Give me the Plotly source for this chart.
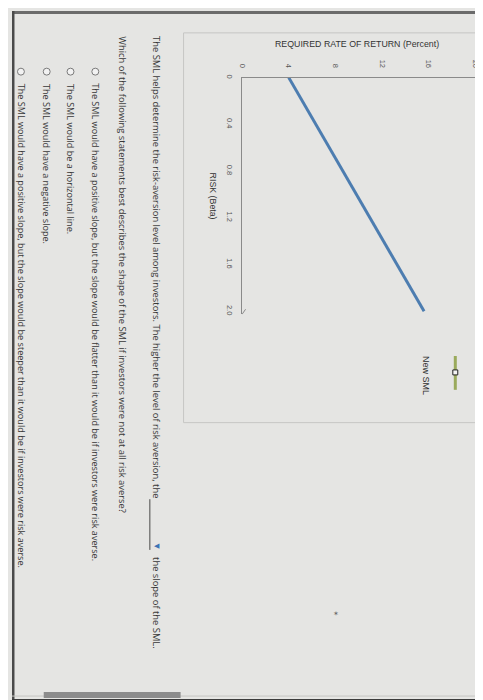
import plotly.graph_objects as go

# SML graph (screen photographed turned 90 degrees clockwise)
return_ticks = [0, 4, 8, 12, 16, 20]
beta_ticks = [0, 0.4, 0.8, 1.2, 1.6, 2.0]
beta_labels = ['0', '0.4', '0.8', '1.2', '1.6', '2.0']
sml_beta = [0, 2.0]
sml_return = [4, 15.6]

question = 'The SML helps determine the risk-aversion level among investors. The higher the level of risk aversion, the'
question_end = 'the slope of the SML.'
prompt = 'Which of the following statements best describes the shape of the SML if investors were not at all risk averse?'
options = [
    'The SML would have a positive slope, but the slope would be flatter than it would be if investors were risk averse.',
    'The SML would be a horizontal line.',
    'The SML would have a negative slope.',
    'The SML would have a positive slope, but the slope would be steeper than it would be if investors were risk averse.',
]

W, H = 483, 700
def px(x):
    return x / W
def py(y):
    return 1 - y / H

bg = '#e5e5e3'
text_col = '#383838'

fig = go.Figure()
fig.add_trace(go.Scatter(x=sml_return, y=sml_beta, mode='lines',
                         line=dict(color='#4d7db0', width=3), showlegend=False,
                         hoverinfo='skip'))

shapes = []
annotations = []

# screen edges
shapes.append(dict(type='rect', xref='paper', yref='paper', x0=px(473), x1=1, y0=py(690), y1=1,
                   fillcolor='#d8d8d6', line=dict(width=0), layer='below'))
shapes.append(dict(type='rect', xref='paper', yref='paper', x0=0, x1=1, y0=py(3), y1=1,
                   fillcolor='#6b6b6b', line=dict(width=0)))
shapes.append(dict(type='rect', xref='paper', yref='paper', x0=0, x1=px(2.5), y0=0, y1=1,
                   fillcolor='#4a4a4a', line=dict(width=0)))
shapes.append(dict(type='rect', xref='paper', yref='paper', x0=0, x1=1, y0=0, y1=py(692),
                   fillcolor='#3b3b3b', line=dict(width=0)))
shapes.append(dict(type='line', xref='paper', yref='paper', x0=0, x1=px(473), y0=py(689), y1=py(689),
                   line=dict(color='#c4c4c2', width=1)))
shapes.append(dict(type='rect', xref='paper', yref='paper', x0=px(32), x1=px(170), y0=py(691), y1=py(685),
                   fillcolor='#8c8c8c', line=dict(width=0)))

# graph panel
shapes.append(dict(type='rect', xref='paper', yref='paper', x0=px(173), x1=px(473), y0=py(414), y1=py(22),
                   line=dict(color='#c6c6c4', width=1), fillcolor='rgba(0,0,0,0)', layer='below'))

# axis arrow heads
shapes.append(dict(type='line', xref='x', yref='y', xsizemode='pixel', ysizemode='pixel',
                   xanchor=20.4, yanchor=0, x0=-5, x1=0, y0=3.5, y1=0, line=dict(color='#8a8a8a', width=1)))
shapes.append(dict(type='line', xref='x', yref='y', xsizemode='pixel', ysizemode='pixel',
                   xanchor=20.4, yanchor=0, x0=-5, x1=0, y0=-3.5, y1=0, line=dict(color='#8a8a8a', width=1)))
shapes.append(dict(type='line', xref='x', yref='y', xsizemode='pixel', ysizemode='pixel',
                   xanchor=0, yanchor=2.0255, x0=-3.5, x1=0, y0=5, y1=0, line=dict(color='#8a8a8a', width=1)))
shapes.append(dict(type='line', xref='x', yref='y', xsizemode='pixel', ysizemode='pixel',
                   xanchor=0, yanchor=2.0255, x0=3.5, x1=0, y0=5, y1=0, line=dict(color='#8a8a8a', width=1)))

# legend (rotated)
shapes.append(dict(type='line', xref='paper', yref='paper', x0=px(447), x1=px(447), y0=py(381), y1=py(347),
                   line=dict(color='#9aaa5c', width=3)))
shapes.append(dict(type='rect', xref='paper', yref='paper', x0=px(444.5), x1=px(449.5), y0=py(366), y1=py(361),
                   fillcolor='#f4f4f4', line=dict(color='#222222', width=1)))
annotations.append(dict(text='New SML', xref='paper', yref='paper', x=px(418), y=py(345),
                        xanchor='center', yanchor='top', textangle=90, showarrow=False,
                        font=dict(family='Liberation Sans', size=9, color='#2e2e2e')))

# axis titles
annotations.append(dict(text='REQUIRED RATE OF RETURN (Percent)', xref='paper', yref='paper',
                        x=px(348), y=py(33), xanchor='center', yanchor='middle', showarrow=False,
                        font=dict(family='Liberation Sans', size=8.8, color='#333333')))
annotations.append(dict(text='RISK (Beta)', xref='paper', yref='paper', x=px(203), y=py(186),
                        xanchor='center', yanchor='middle', textangle=90, showarrow=False,
                        font=dict(family='Liberation Sans', size=8.8, color='#333333')))

# question text
qfont = dict(family='Open Sans', size=9.4, color=text_col)
ofont = dict(family='Open Sans', size=9.1, color=text_col)
annotations.append(dict(text=question, xref='paper', yref='paper', x=px(145), y=py(23),
                        xanchor='center', yanchor='top', textangle=90, showarrow=False, font=qfont))
shapes.append(dict(type='line', xref='paper', yref='paper', x0=px(139), x1=px(139), y0=py(542), y1=py(491),
                   line=dict(color='#4a4a4a', width=1)))
annotations.append(dict(text='\u25c0', xref='paper', yref='paper', x=px(146), y=py(538),
                        xanchor='center', yanchor='middle', showarrow=False,
                        font=dict(size=7, color='#3b73b5')))
annotations.append(dict(text=question_end, xref='paper', yref='paper', x=px(145), y=py(547),
                        xanchor='center', yanchor='top', textangle=90, showarrow=False, font=qfont))
annotations.append(dict(text=prompt, xref='paper', yref='paper', x=px(112), y=py(23),
                        xanchor='center', yanchor='top', textangle=90, showarrow=False, font=qfont))

option_x = [84, 59, 35, 9]
for xo, opt in zip(option_x, options):
    shapes.append(dict(type='circle', xref='paper', yref='paper', x0=px(xo - 3.5), x1=px(xo + 3.5),
                       y0=py(64.5), y1=py(57.5), line=dict(color='#7a7a7a', width=1), fillcolor='#f2f2f2'))
    annotations.append(dict(text=opt, xref='paper', yref='paper', x=px(xo), y=py(71),
                            xanchor='center', yanchor='top', textangle=90, showarrow=False, font=ofont))

# cursor and screen arrow
annotations.append(dict(text='\u2736', xref='paper', yref='paper', x=px(332), y=py(613),
                        showarrow=False, font=dict(size=7, color='#6a6a6a')))
annotations.append(dict(text='\u203a', xref='paper', yref='paper', x=px(478), y=py(684),
                        showarrow=False, font=dict(size=14, color='#222222')))

fig.update_layout(
    width=W, height=H,
    margin=dict(l=0, r=0, t=0, b=0),
    paper_bgcolor=bg,
    plot_bgcolor='rgba(0,0,0,0)',
    shapes=shapes,
    annotations=annotations,
    xaxis=dict(domain=[px(232), px(472)], range=[0, 20.4], side='top',
               showline=True, linecolor='#8a8a8a', linewidth=1,
               tickvals=return_ticks, ticktext=[str(v) for v in return_ticks],
               tickangle=90, ticks='', ticklabelstandoff=6,
               tickfont=dict(family='Liberation Sans', size=7.5, color='#555555'),
               showgrid=False, zeroline=False, fixedrange=True),
    yaxis=dict(domain=[py(305), py(67)], range=[2.0255, 0], side='left',
               showline=True, linecolor='#8a8a8a', linewidth=1,
               tickvals=beta_ticks, ticktext=beta_labels,
               tickangle=90, ticks='', ticklabelstandoff=5,
               tickfont=dict(family='Liberation Sans', size=7.5, color='#555555'),
               showgrid=False, zeroline=False, fixedrange=True),
    showlegend=False,
)

fig.write_html("out.html")
